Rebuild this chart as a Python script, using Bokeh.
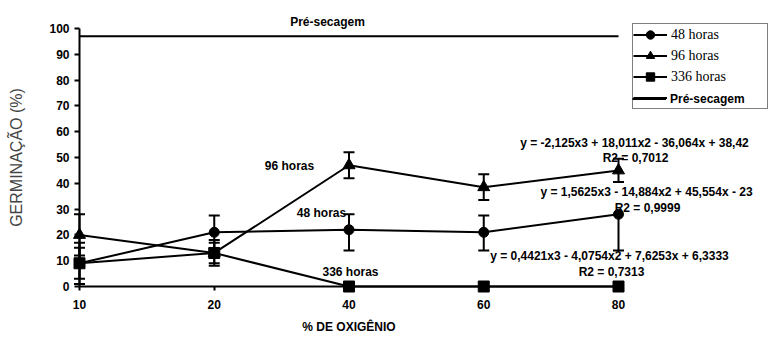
from bokeh.plotting import figure
from bokeh.models import (Range1d, FixedTicker, Whisker, TeeHead, ColumnDataSource,
                          Legend, LegendItem)
from bokeh.core.properties import value
from bokeh.embed import file_html
from bokeh.resources import INLINE

# ---------------- data ----------------
x_labels = ["10", "20", "40", "60", "80"]
h48 = [9, 21, 22, 21, 28]
h48_up = [8, 6.5, 6, 6.5, 0]
h48_dn = [8, 6.5, 8, 7, 14]
h96 = [20, 13, 47, 38.5, 45]
h96_up = [8, 4, 5, 5, 4.5]
h96_dn = [8, 4, 5, 5, 4.5]
h336 = [9, 13, 0, 0, 0]
h336_up = [6, 5, 0, 0, 0]
h336_dn = [6, 5, 0, 0, 0]
pre = [97, 97, 97, 97, 97]
y_ticks = [0, 10, 20, 30, 40, 50, 60, 70, 80, 90, 100]

# ---------------- layout (pixels) ----------------
W, H = 768, 352
FL, FR, FT, FB = 0, W, 0, H              # frame covers whole canvas
AX0, AXN = 79, 618                       # pixel of first / last category
AY0, AY100 = 286, 28                     # pixel of y=0 / y=100
n = len(x_labels)
kx = (AXN - AX0) / (n - 1)
ky = (AY0 - AY100) / 100.0
x_start, x_end = -(AX0 - FL) / kx, (n - 1) + (FR - AXN) / kx
y_start, y_end = -(FB - AY0) / ky, 100 + (AY100 - FT) / ky


def dx(px):
    return (px - AX0) / kx


def dy(py):
    return (AY0 - py) / ky


xs = list(range(n))

p = figure(width=W, height=H, output_backend="svg", toolbar_location=None,
           x_range=Range1d(x_start, x_end), y_range=Range1d(y_start, y_end),
           min_border=0, min_border_left=0, min_border_right=0, min_border_top=0,
           min_border_bottom=0)
p.outline_line_color = None
p.grid.visible = False
p.background_fill_color = "white"

FONT = "Liberation Sans"

# axes
xa = p.xaxis[0]
xa.ticker = FixedTicker(ticks=xs)
xa.major_label_overrides = {i: lab for i, lab in enumerate(x_labels)}
xa.fixed_location = 0
xa.bounds = (0, n - 1)
xa.minor_tick_line_color = None
xa.major_tick_out = 4
xa.major_tick_in = 0
xa.major_label_standoff = 9
xa.axis_label = "% DE OXIGÊNIO"
xa.axis_label_standoff = 8

ya = p.yaxis[0]
ya.ticker = FixedTicker(ticks=y_ticks)
ya.fixed_location = 0
ya.bounds = (0, 100)
ya.minor_tick_line_color = None
ya.major_tick_out = 5
ya.major_tick_in = 0
ya.major_label_standoff = 5
ya.axis_label = "GERMINAÇÃO (%)"
ya.axis_label_standoff = 21

for ax in (xa, ya):
    ax.axis_line_width = 2
    ax.axis_line_color = "black"
    ax.major_tick_line_width = 2
    ax.major_tick_line_color = "black"
    ax.major_label_text_font = FONT
    ax.major_label_text_font_style = "bold"
    ax.major_label_text_font_size = "12px"
    ax.major_label_text_color = "black"
    ax.axis_label_text_font = FONT

xa.axis_label_text_font_style = "bold"
xa.axis_label_text_font_size = "12px"
xa.axis_label_text_color = "black"
ya.axis_label_text_font_style = "normal"
ya.axis_label_text_font_size = "16px"
ya.axis_label_text_color = "#444444"

# pre-drying reference line
lpre = p.line(xs, pre, line_color="black", line_width=2)


def add_whiskers(vals, up, dn):
    hx = [x for x, u in zip(xs, up) if u > 0]
    hv = [v for v, u in zip(vals, up) if u > 0]
    hu = [v + u for v, u in zip(vals, up) if u > 0]
    lx = [x for x, d in zip(xs, dn) if d > 0]
    lv = [v for v, d in zip(vals, dn) if d > 0]
    ld = [v - d for v, d in zip(vals, dn) if d > 0]
    if hx:
        s = ColumnDataSource(dict(x=hx, lo=hv, hi=hu))
        p.add_layout(Whisker(source=s, base="x", lower="lo", upper="hi", dimension="height",
                             line_color="black", line_width=2, lower_head=None,
                             upper_head=TeeHead(size=11, line_width=2, line_color="black")))
    if lx:
        s = ColumnDataSource(dict(x=lx, lo=ld, hi=lv))
        p.add_layout(Whisker(source=s, base="x", lower="lo", upper="hi", dimension="height",
                             line_color="black", line_width=2, upper_head=None,
                             lower_head=TeeHead(size=11, line_width=2, line_color="black")))


add_whiskers(h48, h48_up, h48_dn)
add_whiskers(h96, h96_up, h96_dn)
add_whiskers(h336, h336_up, h336_dn)

l48 = p.line(xs, h48, line_color="black", line_width=2)
s48 = p.scatter(xs, h48, marker="circle", size=10, color="black")
l96 = p.line(xs, h96, line_color="black", line_width=2)
s96 = p.scatter(xs, h96, marker="triangle", size=12, color="black")
l336 = p.line(xs, h336, line_color="black", line_width=2)
s336 = p.scatter(xs, h336, marker="square", size=11, color="black")

# text annotations
texts = [
    ("Pré-secagem", 327, 21),
    ("96 horas", 289, 165),
    ("48 horas", 321, 212),
    ("336 horas", 350, 271),
    ("y = -2,125x3 + 18,011x2 - 36,064x + 38,42", 634, 142),
    ("R2 = 0,7012", 635, 157),
    ("y = 1,5625x3 - 14,884x2 + 45,554x - 23", 646, 191),
    ("R2 = 0,9999", 647, 207),
    ("y = 0,4421x3 - 4,0754x2 + 7,6253x + 6,3333", 609, 255),
    ("R2 = 0,7313", 611, 271),
]
p.text(x=[dx(t[1]) for t in texts], y=[dy(t[2]) for t in texts], text=[t[0] for t in texts],
       text_font=value(FONT), text_font_style="bold", text_font_size="12px",
       text_align="center", text_baseline="middle", text_color="black")

# legend
LEG_L, LEG_T, ROW = 632, 25, 21
leg_y = FB - (LEG_T + 4 * ROW)
leg1 = Legend(items=[
    LegendItem(label="48 horas", renderers=[l48, s48]),
    LegendItem(label="96 horas", renderers=[l96, s96]),
    LegendItem(label="336 horas", renderers=[l336, s336]),
    LegendItem(label=" ", renderers=[lpre]),
], location=(LEG_L - FL, leg_y))
leg2 = Legend(items=[LegendItem(label="Pré-secagem", renderers=[lpre])],
              location=(LEG_L - FL, leg_y))
for lg in (leg1, leg2):
    lg.padding = 0
    lg.spacing = 0
    lg.margin = 0
    lg.glyph_width = 34
    lg.glyph_height = ROW
    lg.label_height = ROW
    lg.label_standoff = 4
    lg.label_text_baseline = "middle"
    lg.label_text_color = "black"
leg1.label_width = 96
leg1.label_text_font = "Liberation Serif"
leg1.label_text_font_size = "14px"
leg1.border_line_color = "black"
leg1.border_line_width = 1.5
leg1.background_fill_color = "white"
leg1.background_fill_alpha = 1
leg2.label_text_font = FONT
leg2.label_text_font_style = "bold"
leg2.label_text_font_size = "12px"
leg2.border_line_color = None
leg2.background_fill_alpha = 0
p.add_layout(leg1)
p.add_layout(leg2)

open("out.html", "w").write(file_html(p, INLINE))
